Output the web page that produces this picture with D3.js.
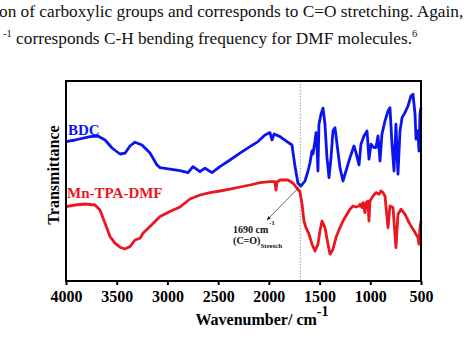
<!DOCTYPE html>
<html>
<head>
<meta charset="utf-8">
<script src="https://cdn.jsdelivr.net/npm/d3@7"></script>
<style>
  body { margin: 0; background: #fff; }
  svg { display: block; font-family: "Liberation Serif", "Times New Roman", serif; }
</style>
</head>
<body>
<svg id="chart" width="474" height="351"></svg>
<script>
// ================================ DATA ================================
// wavenumber (cm-1) / relative transmittance (arbitrary 0-100)
const bdcWave = [4000, 3911, 3763, 3685, 3615, 3546, 3468, 3418, 3369, 3320, 3251, 3172, 3103, 3073, 2975, 2876, 2797, 2748, 2679, 2630, 2561, 2482, 2383, 2285, 2186, 2107, 2038, 1989, 1969, 1949, 1890, 1821, 1772, 1742, 1713, 1683, 1644, 1614, 1594, 1575, 1565, 1545, 1535, 1525, 1516, 1506, 1486, 1466, 1447, 1427, 1407, 1387, 1368, 1348, 1328, 1299, 1269, 1240, 1200, 1161, 1141, 1111, 1092, 1062, 1032, 1013, 993, 963, 944, 924, 904, 885, 855, 825, 806, 786, 766, 747, 727, 707, 687, 658, 628, 599, 579, 559, 549, 530, 520, 510, 500];
const bdcT = [69.7, 70.5, 72.2, 72.5, 70.5, 66.5, 63.5, 63.9, 67.5, 69.4, 68, 64, 58, 56.7, 55.9, 55.2, 54.2, 57.2, 54.7, 56.4, 54.2, 57.2, 60.5, 63.9, 67.2, 69.7, 73, 74.2, 70.5, 73.5, 72.2, 69.7, 68, 57.2, 48.9, 47.5, 50, 55, 59.2, 65, 63.5, 70, 74.2, 66.7, 55, 78.4, 83.4, 86.4, 78.5, 61.7, 51.7, 61.7, 75, 76.7, 68.4, 56.7, 50, 55, 61.7, 67.5, 64.2, 58, 68.4, 72.5, 75, 60.9, 68.4, 66.7, 66.7, 72.5, 60, 73.4, 80, 85, 86.7, 68.4, 55, 78.4, 53.4, 75, 81.7, 84.2, 87.5, 92.5, 93.4, 83.5, 70.9, 75, 65, 83.5, 86.7];

const mnWave = [4000, 3911, 3813, 3714, 3665, 3615, 3566, 3517, 3468, 3418, 3369, 3320, 3270, 3241, 3172, 3073, 2975, 2876, 2778, 2679, 2580, 2482, 2383, 2285, 2186, 2087, 1989, 1940, 1930, 1920, 1890, 1811, 1762, 1723, 1693, 1673, 1654, 1634, 1604, 1575, 1545, 1516, 1496, 1476, 1447, 1417, 1397, 1368, 1338, 1299, 1269, 1230, 1200, 1171, 1141, 1111, 1101, 1082, 1072, 1052, 1042, 1023, 1013, 1003, 973, 944, 914, 894, 875, 855, 825, 806, 776, 747, 727, 697, 658, 618, 589, 559, 530, 520, 510, 500];
const mnT = [37.2, 38, 38.5, 38, 35.5, 28.9, 22.2, 18.9, 16.9, 16, 17.2, 20.5, 21.4, 23.9, 27.2, 32.2, 34.7, 37, 41, 43, 44.2, 45, 45.9, 47, 48, 49.2, 49.7, 49.7, 45.5, 49.5, 50.5, 50.5, 48.9, 46.4, 44.5, 38.5, 30, 26.7, 23.4, 18.4, 15, 18.4, 25, 30, 26.7, 18.4, 13.4, 15.9, 21.7, 26.7, 30, 33.4, 35.9, 37.5, 37, 37.5, 38.4, 36.7, 39.2, 34.2, 39.2, 40, 30, 40, 42.5, 44.2, 43.4, 45, 44.2, 42.5, 26.7, 37.5, 36.7, 16.7, 33.4, 35.9, 33.4, 29.2, 26.7, 24.2, 21.7, 18.4, 26.7, 30];

const xTicks = [4000, 3500, 3000, 2500, 2000, 1500, 1000, 500];
const markWave = 1690;
// ======================================================================

const svg = d3.select("#chart");
const margin = {left: 66, top: 81};
const width = 355, height = 200;
const blue = "#0a14f0", red = "#ea1620";

const x = d3.scaleLinear().domain([4000, 500]).range([0, width]);
const y = d3.scaleLinear().domain([0, 100]).range([height, 0]);

// ---------- caption text above ----------
const cap = svg.append("g").attr("font-size", 17.3).attr("fill", "#111");
cap.append("text").attr("x", -1).attr("y", 17)
  .text("on of carboxylic groups and corresponds to C=O stretching. Again, ");
const l2 = cap.append("text").attr("x", 3).attr("y", 44);
l2.append("tspan").attr("font-size", 10.5).attr("dy", -7).text("-1");
l2.append("tspan").attr("dy", 7).text(" corresponds C-H bending frequency for DMF molecules.");
l2.append("tspan").attr("font-size", 10.5).attr("dy", -7).text("6");

const g = svg.append("g").attr("transform", "translate(" + margin.left + "," + margin.top + ")");

// dotted reference line
g.append("line")
  .attr("x1", x(markWave)).attr("x2", x(markWave))
  .attr("y1", 0).attr("y2", height)
  .attr("stroke", "#888").attr("stroke-width", 0.8)
  .attr("stroke-dasharray", "1.5,1.5");

// ---------- curves ----------
const line = d3.line().x(d => x(d[0])).y(d => y(d[1]));
g.append("path")
  .datum(d3.zip(mnWave, mnT))
  .attr("fill", "none").attr("stroke", red).attr("stroke-width", 2.8)
  .attr("stroke-linejoin", "round")
  .attr("d", line);
g.append("path")
  .datum(d3.zip(bdcWave, bdcT))
  .attr("fill", "none").attr("stroke", blue).attr("stroke-width", 2.8)
  .attr("stroke-linejoin", "round")
  .attr("d", line);

// ---------- frame + axis ----------
g.append("rect").attr("width", width).attr("height", height)
  .attr("fill", "none").attr("stroke", "#000").attr("stroke-width", 2);

const xAxis = g.append("g")
  .attr("transform", "translate(0," + height + ")")
  .call(d3.axisBottom(x).tickValues(xTicks).tickSize(4).tickPadding(6).tickFormat(d3.format("d")));
xAxis.select(".domain").remove();
xAxis.selectAll("line").attr("stroke-width", 2);
xAxis.selectAll("text")
  .attr("font-family", "Liberation Serif, serif")
  .attr("font-size", 16).attr("font-weight", "bold").attr("fill", "#000");

// axis titles
const xt = svg.append("text")
  .attr("x", 262).attr("y", 325)
  .attr("text-anchor", "middle")
  .attr("font-size", 16).attr("font-weight", "bold");
xt.append("tspan").text("Wavenumber/ cm");
xt.append("tspan").attr("font-size", 14).attr("dy", -9).text("-1");

svg.append("text")
  .attr("transform", "translate(59,175) rotate(-90)")
  .attr("text-anchor", "middle")
  .attr("font-size", 16).attr("font-weight", "bold")
  .text("Transmittance");

// series labels
g.append("text").attr("x", 2).attr("y", 135 - margin.top)
  .attr("font-size", 15).attr("font-weight", "bold").attr("fill", blue)
  .text("BDC");
g.append("text").attr("x", 1).attr("y", 198 - margin.top)
  .attr("font-size", 15).attr("font-weight", "bold").attr("fill", red)
  .text("Mn-TPA-DMF");

// ---------- annotation ----------
svg.append("defs").append("marker")
  .attr("id", "arr").attr("viewBox", "0 0 10 10")
  .attr("refX", 9).attr("refY", 5)
  .attr("markerWidth", 6).attr("markerHeight", 6)
  .attr("orient", "auto")
  .append("path").attr("d", "M0,1 L10,5 L0,9 Z").attr("fill", "#222");

g.append("line")
  .attr("x1", x(markWave)).attr("y1", y(47.5))
  .attr("x2", x(2018)).attr("y2", y(30.5))
  .attr("stroke", "#222").attr("stroke-width", 0.7)
  .attr("marker-end", "url(#arr)");

const ann = g.append("g").attr("font-size", 10).attr("font-weight", "bold").attr("fill", "#111");
const a1 = ann.append("text").attr("x", x(2353)).attr("y", y(24));
a1.append("tspan").text("1690 cm");
a1.append("tspan").attr("font-size", 6.5).attr("dy", -8).attr("dx", 1).text("-1");
const a2 = ann.append("text").attr("x", x(2353)).attr("y", y(18.5));
a2.append("tspan").text("(C=O)");
a2.append("tspan").attr("font-size", 7).attr("dy", 4).text("Stretch");
</script>
</body>
</html>
